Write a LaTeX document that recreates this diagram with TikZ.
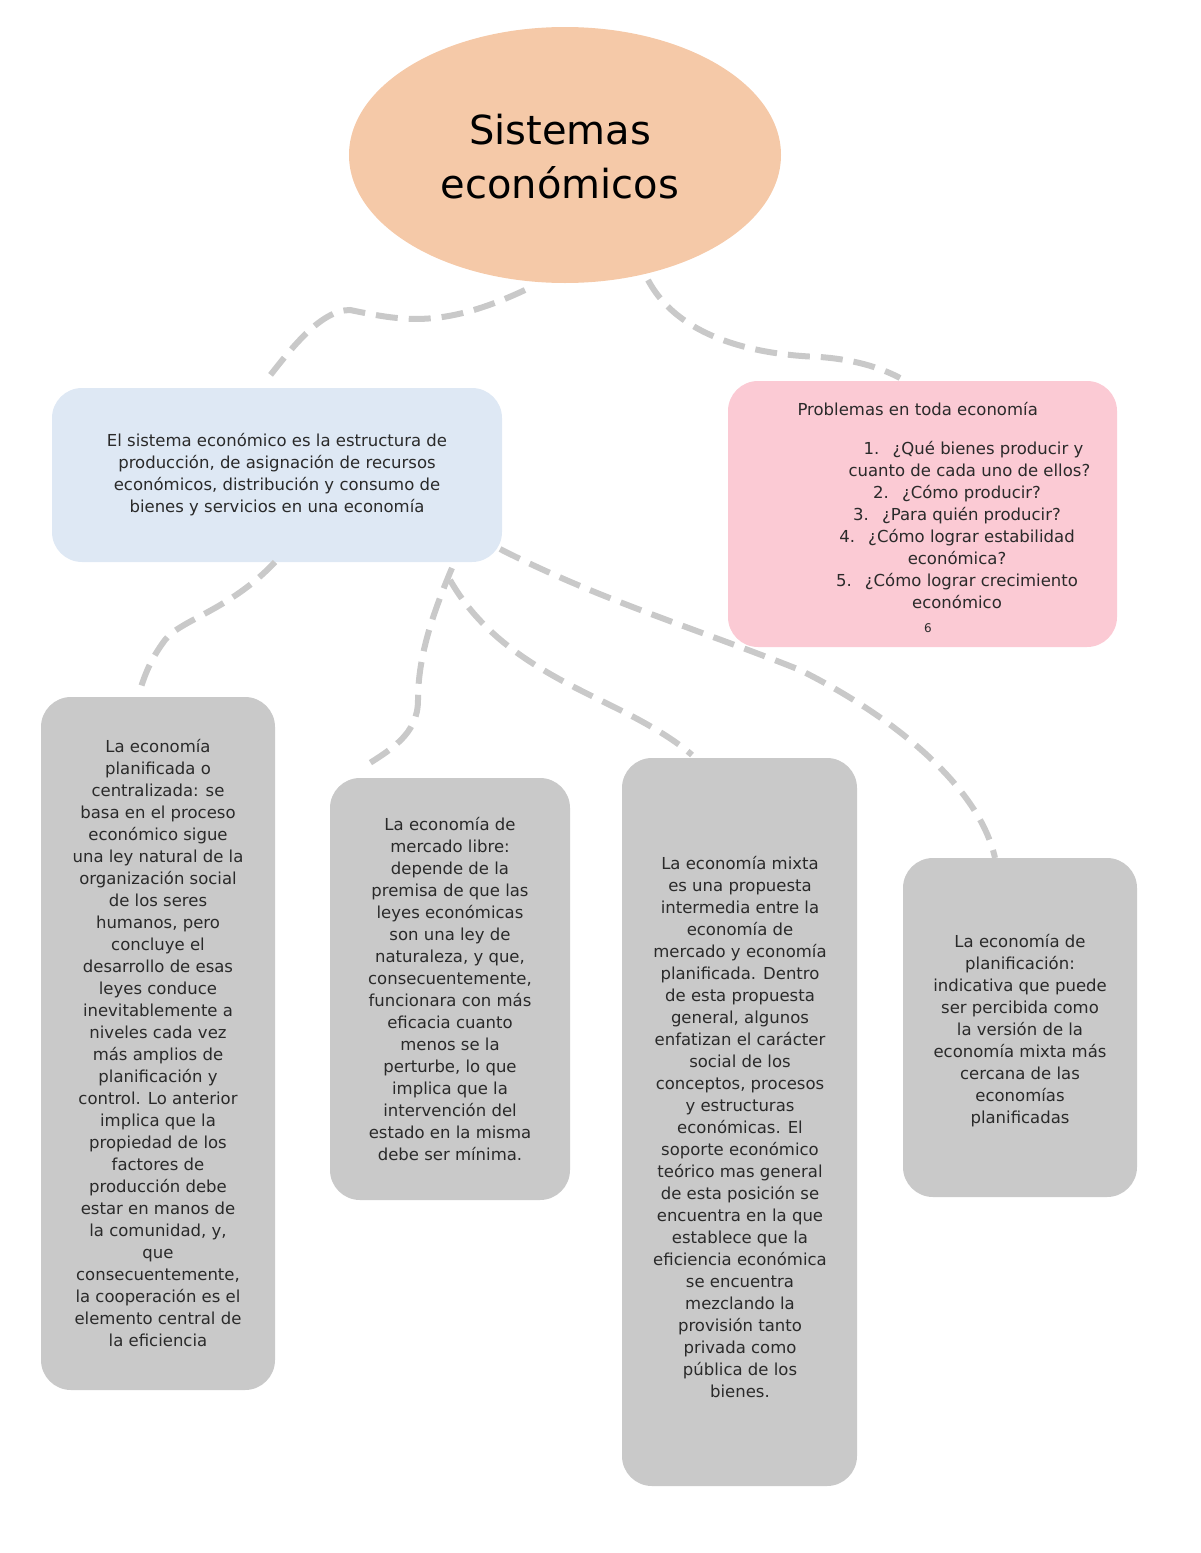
\documentclass[tikz,border=0pt]{standalone}
\usepackage{fontspec}
\setmainfont{DejaVu Sans}
\definecolor{peach}{HTML}{F5C9A8}
\definecolor{lblue}{HTML}{DEE8F4}
\definecolor{lpink}{HTML}{FBCAD4}
\definecolor{lgray}{HTML}{C9C9C9}
\definecolor{txt}{HTML}{2A2A2A}
\begin{document}
\begin{tikzpicture}[x=1pt,y=-1pt,
  box/.style={rounded corners=30pt,inner sep=0pt},
  t/.style={align=center,font=\fontsize{16.5}{22}\selectfont,text=txt},
  con/.style={draw=lgray,line width=6pt,dash pattern=on 22pt off 11pt}]
\useasboundingbox (0,0) rectangle (1200,1553);
\fill[peach] (565,155) ellipse [x radius=216, y radius=128];
\node[font=\fontsize{40}{54}\selectfont,align=center,text=black] (title) at (560,157) {Sistemas\\económicos};
\fill[lblue,box] (52,388) rectangle (502,562);
\node[t] (def) at (277,475) {El sistema económico es la estructura de\\producción, de asignación de recursos\\económicos, distribución y consumo de\\bienes y servicios en una economía};
\fill[lpink,box] (728,381) rectangle (1117,647);
\node[t,anchor=north west,align=left] (prob) at (794,399) {Problemas en toda economía};
\node[t] (list) at (957,525) {\hspace*{2em}1.\hspace{0.8em}¿Qué bienes producir y\\ \hspace*{1.5em}cuanto de cada uno de ellos?\\2.\hspace{0.8em}¿Cómo producir?\\3.\hspace{0.8em}¿Para quién producir?\\4.\hspace{0.8em}¿Cómo lograr estabilidad\\económica?\\5.\hspace{0.8em}¿Cómo lograr crecimiento\\económico};
\node[font=\fontsize{12}{12}\selectfont,text=txt] (six) at (928,628) {6};
\fill[lgray,box] (41,697) rectangle (275,1390);
\fill[lgray,box] (330,778) rectangle (570,1200);
\fill[lgray,box] (622,758) rectangle (857,1486);
\fill[lgray,box] (903,858) rectangle (1137,1197);
\node[t] (b1) at (158,1043) {La economía\\planificada o\\centralizada: se\\basa en el proceso\\económico sigue\\una ley natural de la\\organización social\\de los seres\\humanos, pero\\concluye el\\desarrollo de esas\\leyes conduce\\inevitablemente a\\niveles cada vez\\más amplios de\\planificación y\\control. Lo anterior\\implica que la\\propiedad de los\\factores de\\producción debe\\estar en manos de\\la comunidad, y,\\que\\consecuentemente,\\la cooperación es el\\elemento central de\\la eficiencia};
\node[t] (b2) at (450,989) {La economía de\\mercado libre:\\depende de la\\premisa de que las\\leyes económicas\\son una ley de\\naturaleza, y que,\\consecuentemente,\\funcionara con más\\eficacia cuanto\\menos se la\\perturbe, lo que\\implica que la\\intervención del\\estado en la misma\\debe ser mínima.};
\node[t] (b3) at (740,1127) {La economía mixta\\es una propuesta\\intermedia entre la\\economía de\\mercado y economía\\planificada. Dentro\\de esta propuesta\\general, algunos\\enfatizan el carácter\\social de los\\conceptos, procesos\\y estructuras\\económicas. El\\soporte económico\\teórico mas general\\de esta posición se\\encuentra en la que\\establece que la\\eficiencia económica\\se encuentra\\mezclando la\\provisión tanto\\privada como\\pública de los\\bienes.};
\node[t] (b4) at (1020,1031) {La economía de\\planificación:\\indicativa que puede\\ser percibida como\\la versión de la\\economía mixta más\\cercana de las\\economías\\planificadas};
\coordinate (e1) at (525,290); \coordinate (e2) at (648,280);
\coordinate (d1) at (275,562); \coordinate (d2) at (452,568);
\coordinate (d3) at (450,580); \coordinate (d4) at (500,549);
\draw[con] (e1) .. controls (440,330) and (400,320) .. (350,310) .. controls (320,310) and (290,350) .. (265,382);
\draw[con] (e2) .. controls (680,340) and (760,355) .. (820,357) .. controls (860,360) and (885,370) .. (900,378);
\draw[con] (d1) .. controls (230,610) and (180,620) .. (165,640) .. controls (150,660) and (145,675) .. (140,690);
\draw[con] (d2) .. controls (430,620) and (418,660) .. (418,700) .. controls (418,735) and (390,750) .. (362,768);
\draw[con] (d3) .. controls (490,650) and (560,680) .. (620,710) .. controls (650,725) and (675,740) .. (692,755);
\draw[con] (d4) .. controls (600,600) and (700,630) .. (800,670) .. controls (900,720) and (980,790) .. (995,858);
\end{tikzpicture}
\end{document}
